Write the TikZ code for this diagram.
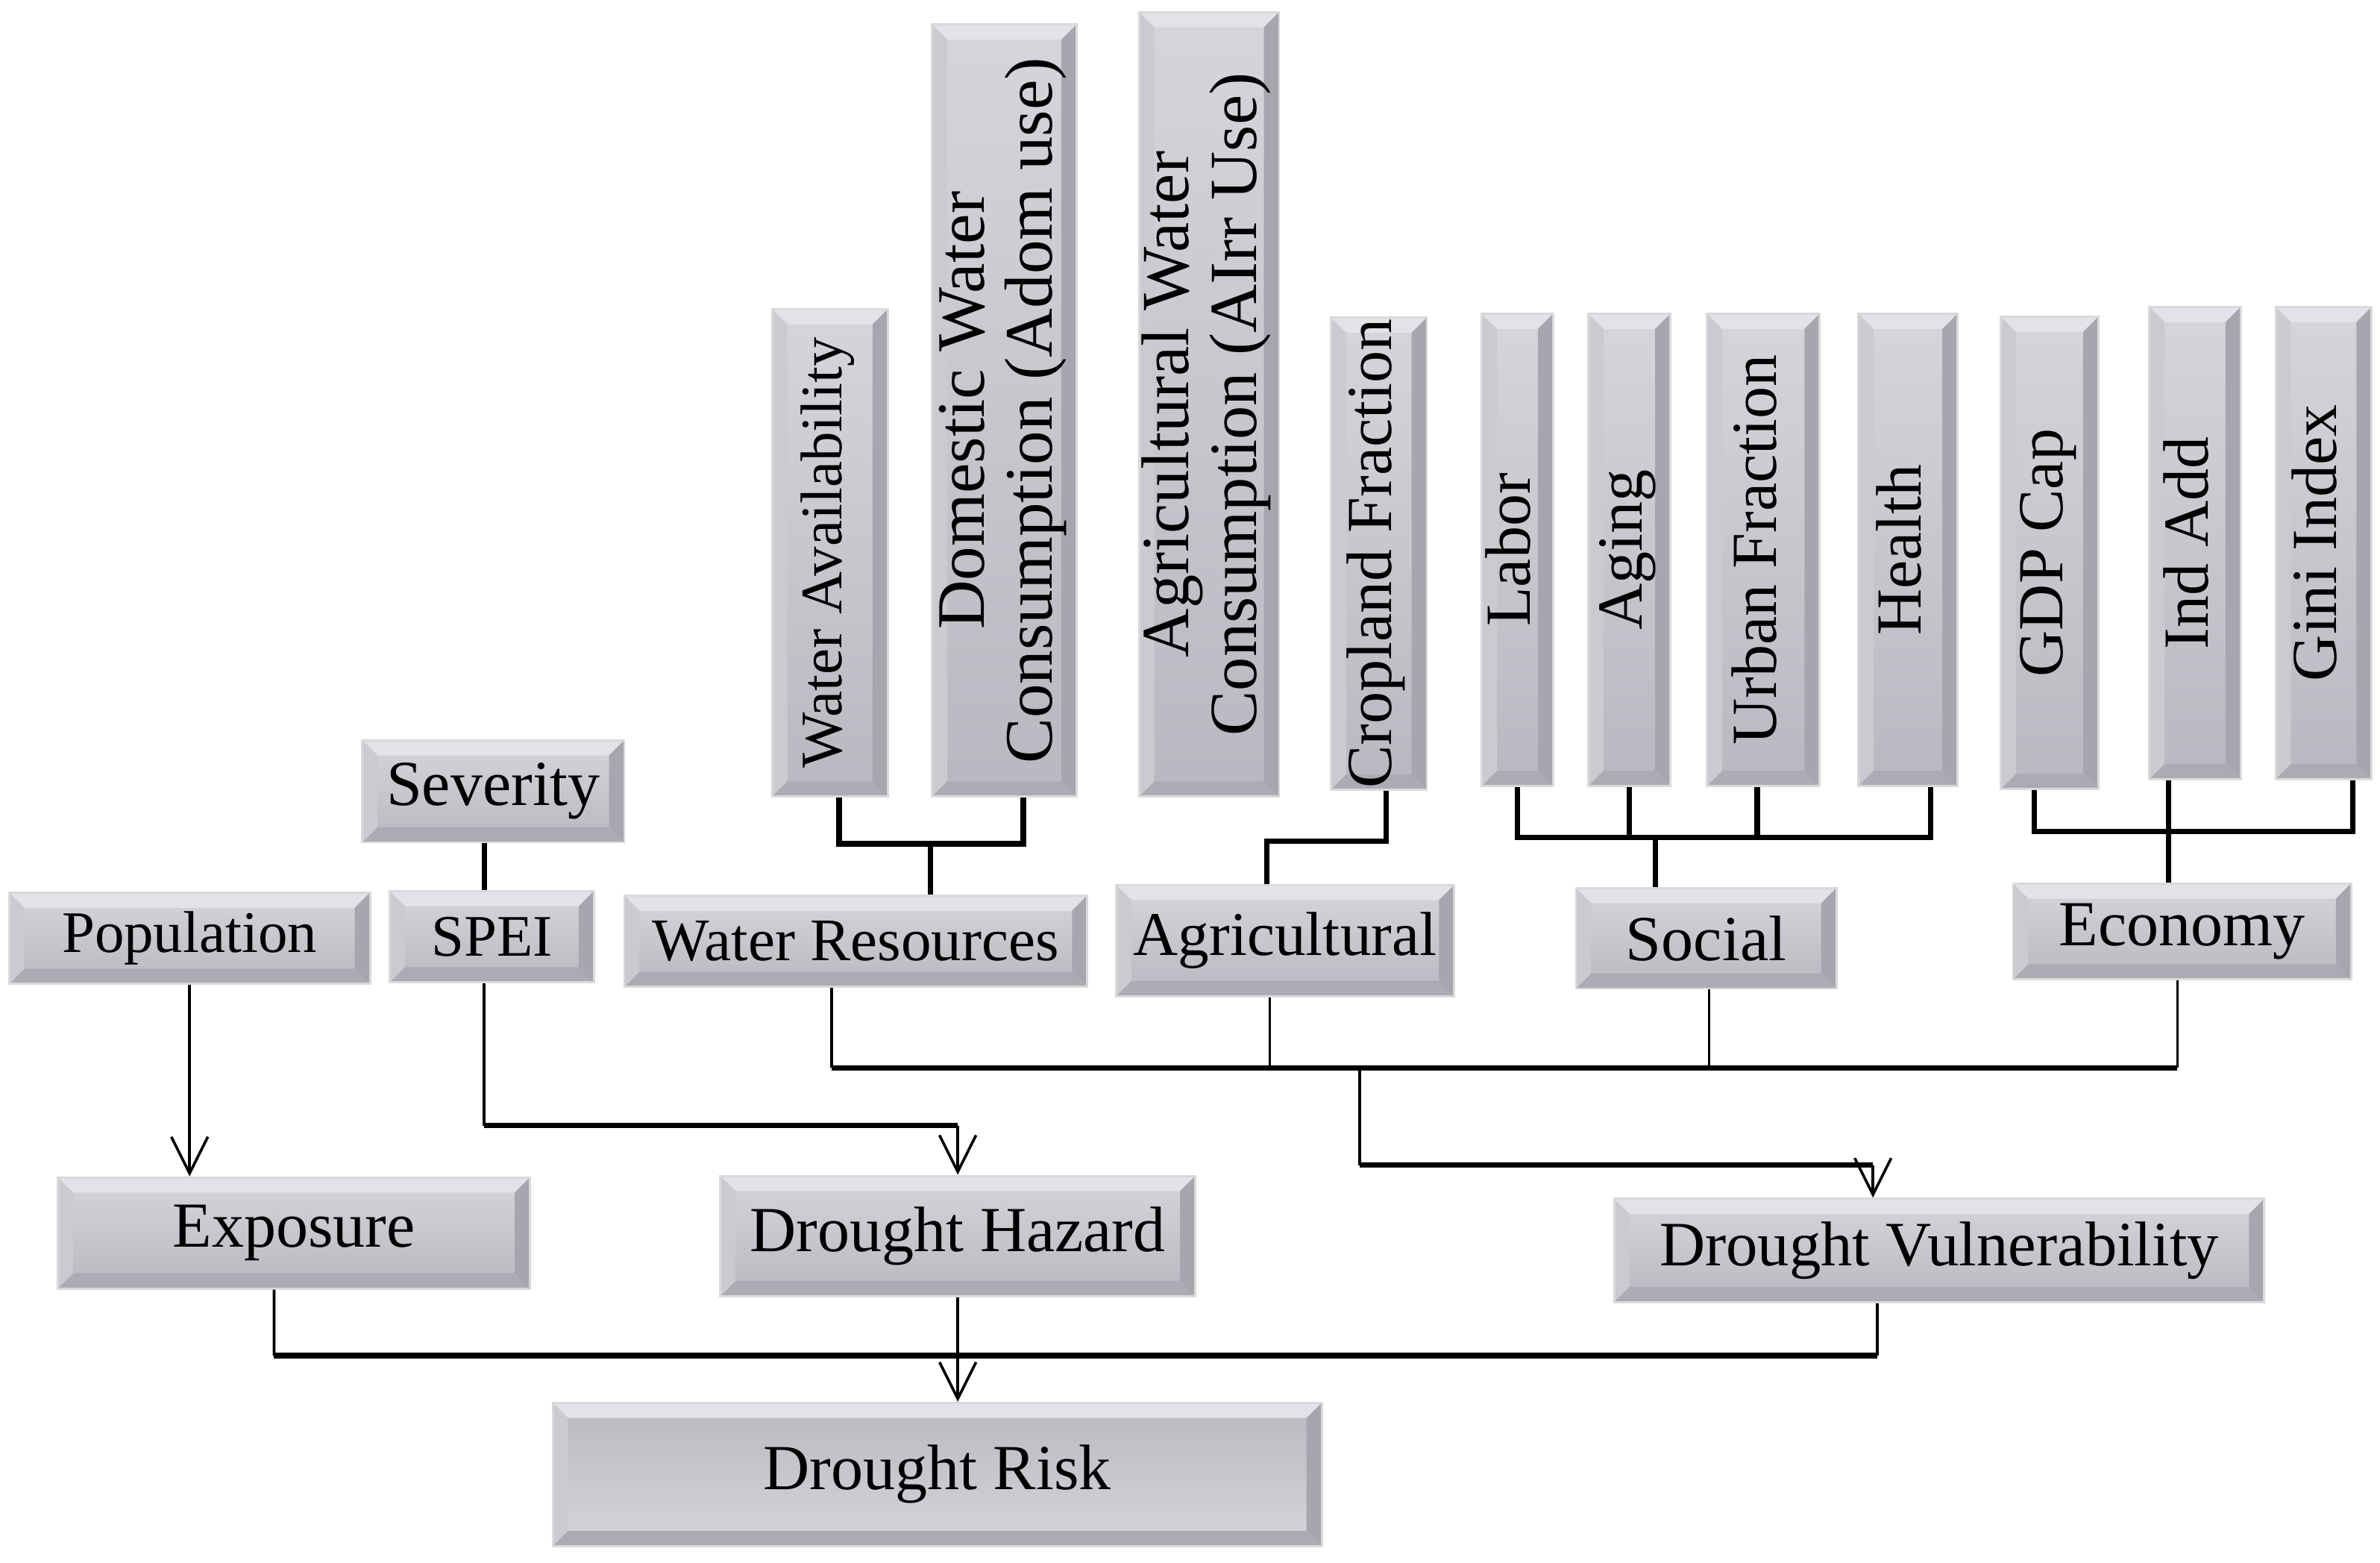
\documentclass[tikz,border=0pt]{standalone}
\usepackage{fontspec}
\setmainfont{Liberation Serif}
\usetikzlibrary{arrows, arrows.meta, calc}

\definecolor{faceTop}{HTML}{D5D5DB}
\definecolor{faceBot}{HTML}{B8B8C0}
\definecolor{bevelTop}{HTML}{E2E2E8}
\definecolor{bevelLeft}{HTML}{CACAD0}
\definecolor{bevelRight}{HTML}{A6A6AE}
\definecolor{bevelBottom}{HTML}{ABABB3}

\newcommand{\bv}{0.1}
\newcommand{\vtext}[1]{\rotatebox{90}{\begin{tabular}{@{}c@{}}#1\end{tabular}}}

\tikzset{headarrow/.style = {-{Straight Barb[length=.24cm, width=.24cm]}}}
\tikzset{
    bevelbox/.style = {draw=gray!30, line width=.4pt,
                       top color=faceTop, bottom color=faceBot,
                       inner sep=0pt, font=\fontsize{12}{12}\selectfont,
                       path picture={
        \coordinate (oa) at (path picture bounding box.south west);
        \coordinate (ob) at (path picture bounding box.north east);
        \coordinate (ia) at ($(oa)+(\bv,\bv)$);
        \coordinate (ib) at ($(ob)-(\bv,\bv)$);
        \fill[bevelTop]    (oa|-ob) -- (ob) -- (ib) -- (ia|-ib) -- cycle;
        \fill[bevelRight]  (ob) -- (ob|-oa) -- (ib|-ia) -- (ib) -- cycle;
        \fill[bevelBottom] (oa) -- (ob|-oa) -- (ib|-ia) -- (ia) -- cycle;
        \fill[bevelLeft]   (oa) -- (oa|-ob) -- (ia|-ib) -- (ia) -- cycle;
    }},
    boxsize/.style 2 args = {minimum width=#1cm, minimum height=#2cm},
    fsize/.style = {font=\fontsize{#1}{#1}\selectfont},
    link/.style = {line width=1pt},
    thinlink/.style = {line width=.5pt}
}

\begin{document}
\begin{tikzpicture}
    \useasboundingbox (0,0) rectangle (15.63,-10.26);

    % indicators
    \node[bevelbox, boxsize={.76}{3.20}, fsize=11]
        (wavail) at (5.45,-3.63) {\vtext{Water Availability}};
    \node[bevelbox, boxsize={.95}{5.07}, fsize=12.7]
        (wdom) at (6.595,-2.695) {\vtext{Domestic Water\\Consumption (Adom use)}};
    \node[bevelbox, boxsize={.92}{5.15}, fsize=12.6]
        (wagri) at (7.94,-2.655) {\vtext{Agricultural Water\\Consumption (AIrr Use)}};
    \foreach \Name/\X/\Y/\W/\Text in {%
        crop/9.055/-3.635/.63/{Cropland Fraction},
        labor/9.965/-3.61/.47/{Labor},
        aging/10.70/-3.61/.54/{Aging},
        urban/11.58/-3.61/.74/{Urban Fraction},
        health/12.53/-3.61/.65/{Health},
        gdp/13.46/-3.63/.64/{GDP Cap},
        indadd/14.415/-3.565/.60/{Ind Add},
        gini/15.26/-3.565/.63/{Gini Index}%
        }
        \node[bevelbox, boxsize={\W}{3.10}] (\Name) at (\X,\Y) {\vtext{\Text}};

    % components
    \node[bevelbox, boxsize={1.72}{.67}] (severity) at (3.24,-5.195) {Severity};
    \node[bevelbox, boxsize={2.37}{.60}, fsize=11] (population) at (1.245,-6.16) {Population};
    \node[bevelbox, boxsize={1.34}{.60}, fsize=11] (spei) at (3.23,-6.15) {SPEI};
    \node[bevelbox, boxsize={3.04}{.60}, fsize=11.3] (wres) at (5.62,-6.18) {Water Resources};
    \node[bevelbox, boxsize={2.22}{.73}, fsize=11.6] (agri) at (8.44,-6.175) {Agricultural};
    \node[bevelbox, boxsize={1.71}{.66}] (social) at (11.205,-6.16) {Social};
    \node[bevelbox, boxsize={2.22}{.63}] (econ) at (14.33,-6.115) {Economy};

    \node[bevelbox, boxsize={3.10}{.73}] (exposure) at (1.93,-8.095) {Exposure};
    \node[bevelbox, boxsize={3.12}{.79}] (hazard) at (6.29,-8.115) {Drought Hazard};
    \node[bevelbox, boxsize={4.27}{.68}, fsize=11.8] (vuln) at (12.735,-8.21) {Drought Vulnerability};
    \node[bevelbox, boxsize={5.05}{.94}, top color=faceBot, bottom color=faceTop]
        (risk) at (6.155,-9.68) {Drought Risk};

    % junctions
    \coordinate (wbar) at (6.11,-5.54);
    \coordinate (sbar) at (10.87,-5.50);
    \coordinate (ebar) at (14.24,-5.46);
    \coordinate (sbend) at (3.18,-7.39);
    \coordinate (vbar) at (8.93,-7.01);
    \coordinate (vbend) at (8.93,-7.65);
    \coordinate (vdrop) at ([xshift=-4.35mm]vuln.north);
    \coordinate (rbar) at (1.80,-8.90);

    % water resources
    \draw[link] ([xshift=.6mm]wavail.south) |- (wbar) -| ([xshift=1.25mm]wdom.south);
    \draw[link] (wbar) -- (wbar |- wres.north);

    % agricultural
    \draw[link] ([xshift=.5mm]crop.south) -- ++(0,-.33) -| ([xshift=-1.2mm]agri.north);

    % social
    \draw[link] (labor.south) |- ([xshift=1.5mm]health.south |- sbar)
                              -- ([xshift=1.5mm]health.south);
    \foreach \Name/\Dx in {aging/0mm, urban/-.4mm}
        \draw[link] ([xshift=\Dx]\Name.south) -- ([xshift=\Dx]\Name.south |- sbar);
    \draw[link] (sbar) -- (sbar |- social.north);

    % economy
    \draw[link] ([xshift=-1mm]gdp.south) |- ([xshift=1.9mm]gini.south |- ebar)
                                         -- ([xshift=1.9mm]gini.south);
    \draw[link] (ebar |- indadd.south) -- (ebar |- econ.north);

    % hazard
    \draw[link] ([xshift=-.6mm]severity.south) -- ([xshift=-.6mm]severity.south |- spei.north);
    \draw[thinlink] (sbend |- spei.south) -- (sbend);
    \draw[link] (sbend) -- (sbend -| hazard.north);
    \draw[thinlink, headarrow] (sbend -| hazard.north) -- (hazard.north);

    % exposure
    \draw[thinlink, headarrow] (population.south) -- (population.south |- exposure.north);

    % vulnerability
    \foreach \Name/\Dx in {wres/-1.6mm, agri/-1mm, social/.2mm, econ/-.3mm}
        \draw[thinlink] ([xshift=\Dx]\Name.south) -- ([xshift=\Dx]\Name.south |- vbar);
    \draw[link] ([xshift=-1.6mm]wres.south |- vbar) -- ([xshift=-.3mm]econ.south |- vbar);
    \draw[thinlink] (vbar) -- (vbend);
    \draw[link] (vbend) -- (vbend -| vdrop);
    \draw[thinlink, headarrow] (vbend -| vdrop) -- (vdrop);

    % risk
    \draw[thinlink] ([xshift=-1.3mm]exposure.south) -- (rbar);
    \draw[thinlink] ([xshift=-4.05mm]vuln.south) -- ([xshift=-4.05mm]vuln.south |- rbar);
    \draw[link] (rbar) -- ([xshift=-4.05mm]vuln.south |- rbar);
    \draw[thinlink, headarrow] (hazard.south) -- (hazard.south |- risk.north);
\end{tikzpicture}
\end{document}
